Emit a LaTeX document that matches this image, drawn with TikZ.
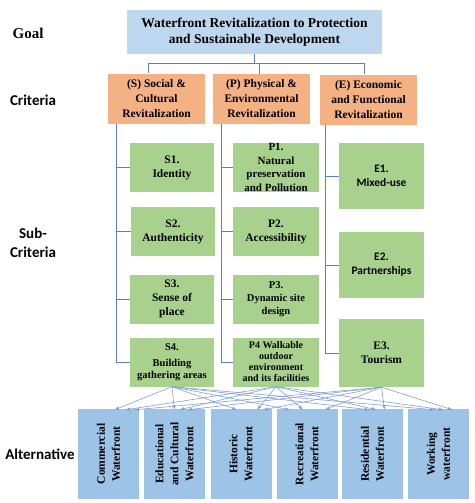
\documentclass[tikz,border=0pt]{standalone}
\usepackage{fontspec}
\usepackage{graphicx}
\setmainfont{Liberation Serif}
\newfontfamily\labelfont{Carlito}
\definecolor{goalblue}{HTML}{BDD7EE}
\definecolor{critorange}{HTML}{F4B183}
\definecolor{subgreen}{HTML}{A9D18E}
\definecolor{altblue}{HTML}{9DC3E6}
\definecolor{treeblue}{HTML}{5B7FC6}
\definecolor{arrowblue}{HTML}{7F9FD6}
\newcommand\uptext[1]{\rotatebox{90}{\parbox{86pt}{\centering #1}}}
\begin{document}
\begin{tikzpicture}[x=1pt,y=-1pt,
  goalbox/.style={fill=goalblue, minimum width=255pt, minimum height=44pt, inner sep=0pt, align=center, font=\fontsize{13.5}{16}\selectfont\bfseries},
  critbox/.style={fill=critorange, minimum width=97pt, minimum height=50pt, inner sep=0pt, align=center, font=\fontsize{11.5}{15}\selectfont\bfseries},
  subbox/.style={fill=subgreen, minimum height=49pt, inner sep=0pt, align=center, font=\fontsize{11.5}{14}\selectfont\bfseries},
  altbox/.style={fill=altblue, minimum width=61pt, minimum height=90pt, inner sep=0pt, font=\fontsize{11.5}{15}\selectfont\bfseries},
  lvl/.style={align=center, font=\labelfont\fontsize{15}{19}\selectfont\bfseries},
  tree/.style={draw=treeblue, line width=0.9pt},
  arr/.style={draw=arrowblue, line width=0.6pt, -latex}]
  \useasboundingbox (0,0) rectangle (474,503);
  % levels
  \node[lvl, font=\fontsize{15}{19}\selectfont\bfseries] (lgoal) at (28,33) {Goal};
  \node[lvl] (lcrit) at (33,100) {Criteria};
  \node[lvl] (lsub) at (33,243) {Sub-\\Criteria};
  \node[lvl] (lalt) at (40,454) {Alternative};
  % goal and criteria
  \node[goalbox] (goal) at (254.5,32) {Waterfront Revitalization to Protection\\and Sustainable Development};
  \node[critbox] (critS) at (156.5,98.5) {(S) Social \&\\Cultural\\Revitalization};
  \node[critbox] (critP) at (261.5,99) {(P) Physical \&\\Environmental\\Revitalization};
  \node[critbox] (critE) at (368.5,99.5) {(E) Economic\\and Functional\\Revitalization};
  \draw[tree] (goal.south) -- ++(0,9) coordinate (gbar);
  \draw[tree] ([xshift=-8.5pt]critS.north) |- ([xshift=-4.5pt]critE.north |- gbar) -- ([xshift=-4.5pt]critE.north);
  \draw[tree] ([xshift=-2.5pt]critP.north |- gbar) -- ([xshift=-2.5pt]critP.north);
  % sub-criteria
  \node[subbox, minimum width=84pt] (S1) at (172,167.5) {S1.\\Identity};
  \node[subbox, minimum width=84pt] (S2) at (173,231.5) {S2.\\Authenticity};
  \node[subbox, minimum width=84pt] (S3) at (172,299) {S3.\\Sense of\\place};
  \node[subbox, minimum width=84pt, font=\fontsize{10.5}{11.5}\selectfont\bfseries] (S4) at (172,362) {S4.\\[5pt]Building\\gathering areas};
  \node[subbox, minimum width=86pt, font=\fontsize{11}{13.5}\selectfont\bfseries] (P1) at (276,167.5) {P1.\\Natural\\preservation\\and Pollution};
  \node[subbox, minimum width=86pt] (P2) at (276,231.5) {P2.\\Accessibility};
  \node[subbox, minimum width=86pt, font=\fontsize{10.5}{13}\selectfont\bfseries] (P3) at (276,299.5) {P3.\\Dynamic site\\design};
  \node[subbox, minimum width=86pt, font=\fontsize{10}{11}\selectfont\bfseries] (P4) at (276,362) {P4 Walkable\\outdoor\\environment\\and its facilities};
  \node[subbox, minimum width=85pt, minimum height=66pt, font=\labelfont\fontsize{11.5}{14}\selectfont\bfseries] (E1) at (381.5,176) {E1.\\Mixed-use};
  \node[subbox, minimum width=85pt, minimum height=66pt, font=\labelfont\fontsize{11.5}{14}\selectfont\bfseries] (E2) at (381.5,265) {E2.\\Partnerships};
  \node[subbox, minimum width=85pt, minimum height=68pt] (E3) at (381.5,353) {E3.\\Tourism};
  \coordinate (sS) at ([xshift=9pt]critS.south west);
  \coordinate (sP) at ([xshift=9pt]critP.south west);
  \coordinate (sE) at ([xshift=6pt]critE.south west);
  \draw[tree] (sS) |- (S4.west);
  \draw[tree] (sP) |- (P4.west);
  \draw[tree] (sE) |- (E3.west);
  \foreach \n in {S1,S2,S3} \draw[tree] (sS |- \n.west) -- (\n.west);
  \foreach \n in {P1,P2,P3} \draw[tree] (sP |- \n.west) -- (\n.west);
  \foreach \n in {E1,E2} \draw[tree] (sE |- \n.west) -- (\n.west);
  % alternatives
  \node[altbox] (com) at (108.5,454) {\uptext{Commercial\\Waterfront}};
  \node[altbox] (edu) at (174.5,454) {\uptext{Educational\\and Cultural\\Waterfront}};
  \node[altbox] (his) at (241,454) {\uptext{Historic\\Waterfront}};
  \node[altbox] (rec) at (307,454) {\uptext{Recreational\\Waterfront}};
  \node[altbox] (res) at (372.5,454) {\uptext{Residential\\Waterfront}};
  \node[altbox] (wor) at (438.5,454) {\uptext{Working\\waterfront}};
  \foreach \alt/\i/\j/\k in {com/6/17/26, edu/0/5/13, his/-4/16/22, rec/-17/-4/18, res/-3/4/12, wor/-4/5/14} {
    \draw[arr] (S4.south) -- ([xshift=\i pt, yshift=-1pt]\alt.north);
    \draw[arr] (P4.south) -- ([xshift=\j pt, yshift=-1pt]\alt.north);
    \draw[arr] (E3.south) -- ([xshift=\k pt, yshift=-1pt]\alt.north);
  }
\end{tikzpicture}
\end{document}
